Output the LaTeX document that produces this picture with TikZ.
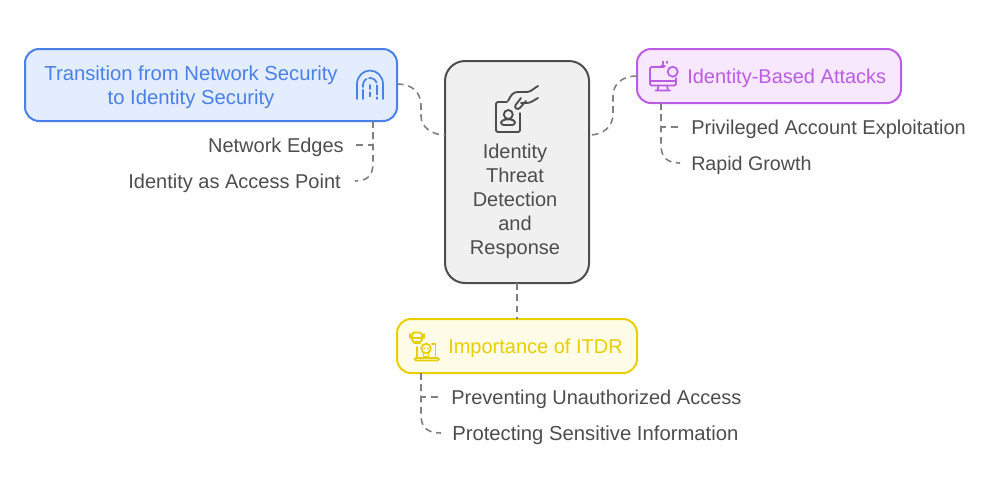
\documentclass[tikz,border=0pt]{standalone}
\usepackage{fontspec}
\setmainfont{Liberation Sans}
\definecolor{cblue}{HTML}{4A80E8}
\definecolor{fblue}{HTML}{E3EDFE}
\definecolor{cpurp}{HTML}{BB5CE6}
\definecolor{fpurp}{HTML}{F8E8FD}
\definecolor{cyell}{HTML}{E8CF00}
\definecolor{fyell}{HTML}{FEFBE6}
\definecolor{cgray}{HTML}{4D4D4D}
\definecolor{fgray}{HTML}{F0F0F0}
\definecolor{cdash}{HTML}{808080}
\tikzset{
  box/.style={draw, line width=1.5pt, rounded corners=10.5pt, inner sep=0pt},
  lbl/.style={font=\fontsize{15}{18}\selectfont, text=cgray, inner sep=0pt, align=center},
  lblw/.style={lbl, font=\fontsize{15.2}{18}\selectfont},
  lbln/.style={lbl, font=\fontsize{14.75}{18}\selectfont},
  conn/.style={draw=cdash, line width=1.2pt, dash pattern=on 5pt off 3.5pt},
  icon/.style={line width=1.3pt, line cap=round, line join=round},
}
\begin{document}
\begin{tikzpicture}[x=0.75pt,y=-0.75pt]
\useasboundingbox (0,0) rectangle (998,494);
% boxes
\node[box, draw=cblue, fill=fblue, minimum width=279pt, minimum height=54pt] (net) at (211,85) {};
\node[box, draw=cpurp, fill=fpurp, minimum width=198pt, minimum height=40.5pt] (att) at (769,76) {};
\node[box, draw=cyell, fill=fyell, minimum width=180pt, minimum height=40.5pt] (imp) at (517,346) {};
\node[box, draw=cgray, fill=fgray, minimum width=108pt, minimum height=166.5pt, rounded corners=15pt] (core) at (517,172) {};
% titles
\node[lblw, text=cblue] (netT) at (191,87) {Transition from Network Security\\to Identity Security};
\node[lbl, text=cpurp, anchor=west] (attT) at (687,78) {Identity-Based Attacks};
\node[lbl, text=cyell, anchor=west] (impT) at (448,348) {Importance of ITDR};
\node[lbl] (coreT) at (515,201) {Identity\\Threat\\Detection\\and\\Response};
% leaves
\node[lbl, anchor=east] (n1) at (344,147) {Network Edges};
\node[lbl, anchor=east] (n2) at (341,183) {Identity as Access Point};
\node[lbl, anchor=west] (a1) at (691,129) {Privileged Account Exploitation};
\node[lbln, anchor=west] (a2) at (691,165) {Rapid Growth};
\node[lbl, anchor=west] (i1) at (451,399) {Preventing Unauthorized Access};
\node[lblw, anchor=west] (i2) at (452,435) {Protecting Sensitive Information};
% connector anchors
\coordinate (coreL) at (445,135);
\coordinate (coreR) at (589,135);
\coordinate (netD) at (373,121);
\coordinate (attD) at (661,103);
\coordinate (impD) at (421,373);
\coordinate (netE) at (397,84);
\coordinate (attW) at (637,76);
\coordinate (coreS) at (517,283);
\coordinate (impN) at (517,319);
\coordinate (n1e) at (355,145);
\coordinate (n2e) at (355,181);
\coordinate (a1e) at (680,127);
\coordinate (a2e) at (680,163);
\coordinate (i1e) at (440,397);
\coordinate (i2e) at (441,433);
% connectors
\draw[conn] (netE) .. controls (412,84) and (421,92) .. (421,106) -- (421,116) .. controls (421,127) and (432,135) .. (coreL);
\draw[conn] (attW) .. controls (622,76) and (613,84) .. (613,96) -- (613,114) .. controls (613,126) and (604,135) .. (coreR);
\draw[conn] (coreS) -- (impN);
\draw[conn] (netD) -- (373,145) -- (n1e);
\draw[conn] (netD) -- (373,163) .. controls (373,175) and (368,181) .. (n2e);
\draw[conn] (attD) -- (661,127) -- (a1e);
\draw[conn] (attD) -- (661,145) .. controls (661,157) and (667,163) .. (a2e);
\draw[conn] (impD) -- (421,397) -- (i1e);
\draw[conn] (impD) -- (421,415) .. controls (421,427) and (427,433) .. (i2e);
% fingerprint icon
\begin{scope}[icon, draw=cblue]
\draw (357,99) -- (357,84) arc[start angle=180, end angle=360, x radius=13, y radius=13.5] -- (383,99);
\draw[dash pattern=on 7pt off 2pt] (363,99) -- (363,85) arc[start angle=180, end angle=360, x radius=7, y radius=7] -- (377,99);
\draw[dash pattern=on 3pt off 2.5pt] (370,85) -- (370,99);
\end{scope}
% id card and hand icon
\begin{scope}[icon, draw=cgray, line width=1.4pt]
\draw[rounded corners=1.5pt] (507,102) -- (496,102) -- (496,132) -- (520,132) -- (520,113);
\draw (508,101) .. controls (511,95) and (513,92) .. (518,92) -- (527,92) .. controls (531,92) and (534,88) .. (538,86);
\draw (521,103) -- (527,103) .. controls (531,103) and (534,100) .. (538,98);
\draw[rounded corners=2pt] (521,98) -- (514,107) -- (518,110) -- (526,101);
\draw (508.3,114.5) circle[radius=4.5];
\draw[rounded corners=2pt] (501,125) .. controls (501,121) and (504,119.5) .. (508.3,119.5) .. controls (512.5,119.5) and (515,121) .. (515,125) -- cycle;
\end{scope}
% monitor icon
\begin{scope}[icon, draw=cpurp]
\draw[rounded corners=1pt] (664,67) -- (650,67) -- (650,85.5) -- (676,85.5) -- (676,78);
\draw (650,81) -- (676,81);
\draw (672.7,71.7) circle[radius=5];
\draw (663,61.5) -- (663,64.5) (667,61.5) -- (667,63) (661,66) -- (665,66);
\draw (658.5,85.5) -- (657.5,90.5) (667,85.5) -- (668,90.5) (655.5,90.5) -- (670,90.5);
\end{scope}
% skull laptop icon
\begin{scope}[icon, draw=cyell]
\draw[rounded corners=2pt] (412,342) -- (412,332.5) -- (422,332.5) -- (422,342) -- cycle;
\draw (412,338) -- (422,338);
\draw (410,334) -- (410,338) (424,334) -- (424,338);
\draw (414,343.5) -- (420,343.5);
\draw (417,347) -- (417,358) (432,344) -- (435.5,344) -- (435.5,358);
\draw[rounded corners=1pt] (414.5,358) -- (439,358) -- (439,360.5) -- (414.5,360.5) -- cycle;
\draw (426,348.5) circle[radius=4.8];
\draw (423.5,353) -- (423.5,356.5) -- (428.5,356.5) -- (428.5,353);
\fill[cyell] (424.2,348.5) circle[radius=1] (427.8,348.5) circle[radius=1];
\end{scope}
\end{tikzpicture}
\end{document}
